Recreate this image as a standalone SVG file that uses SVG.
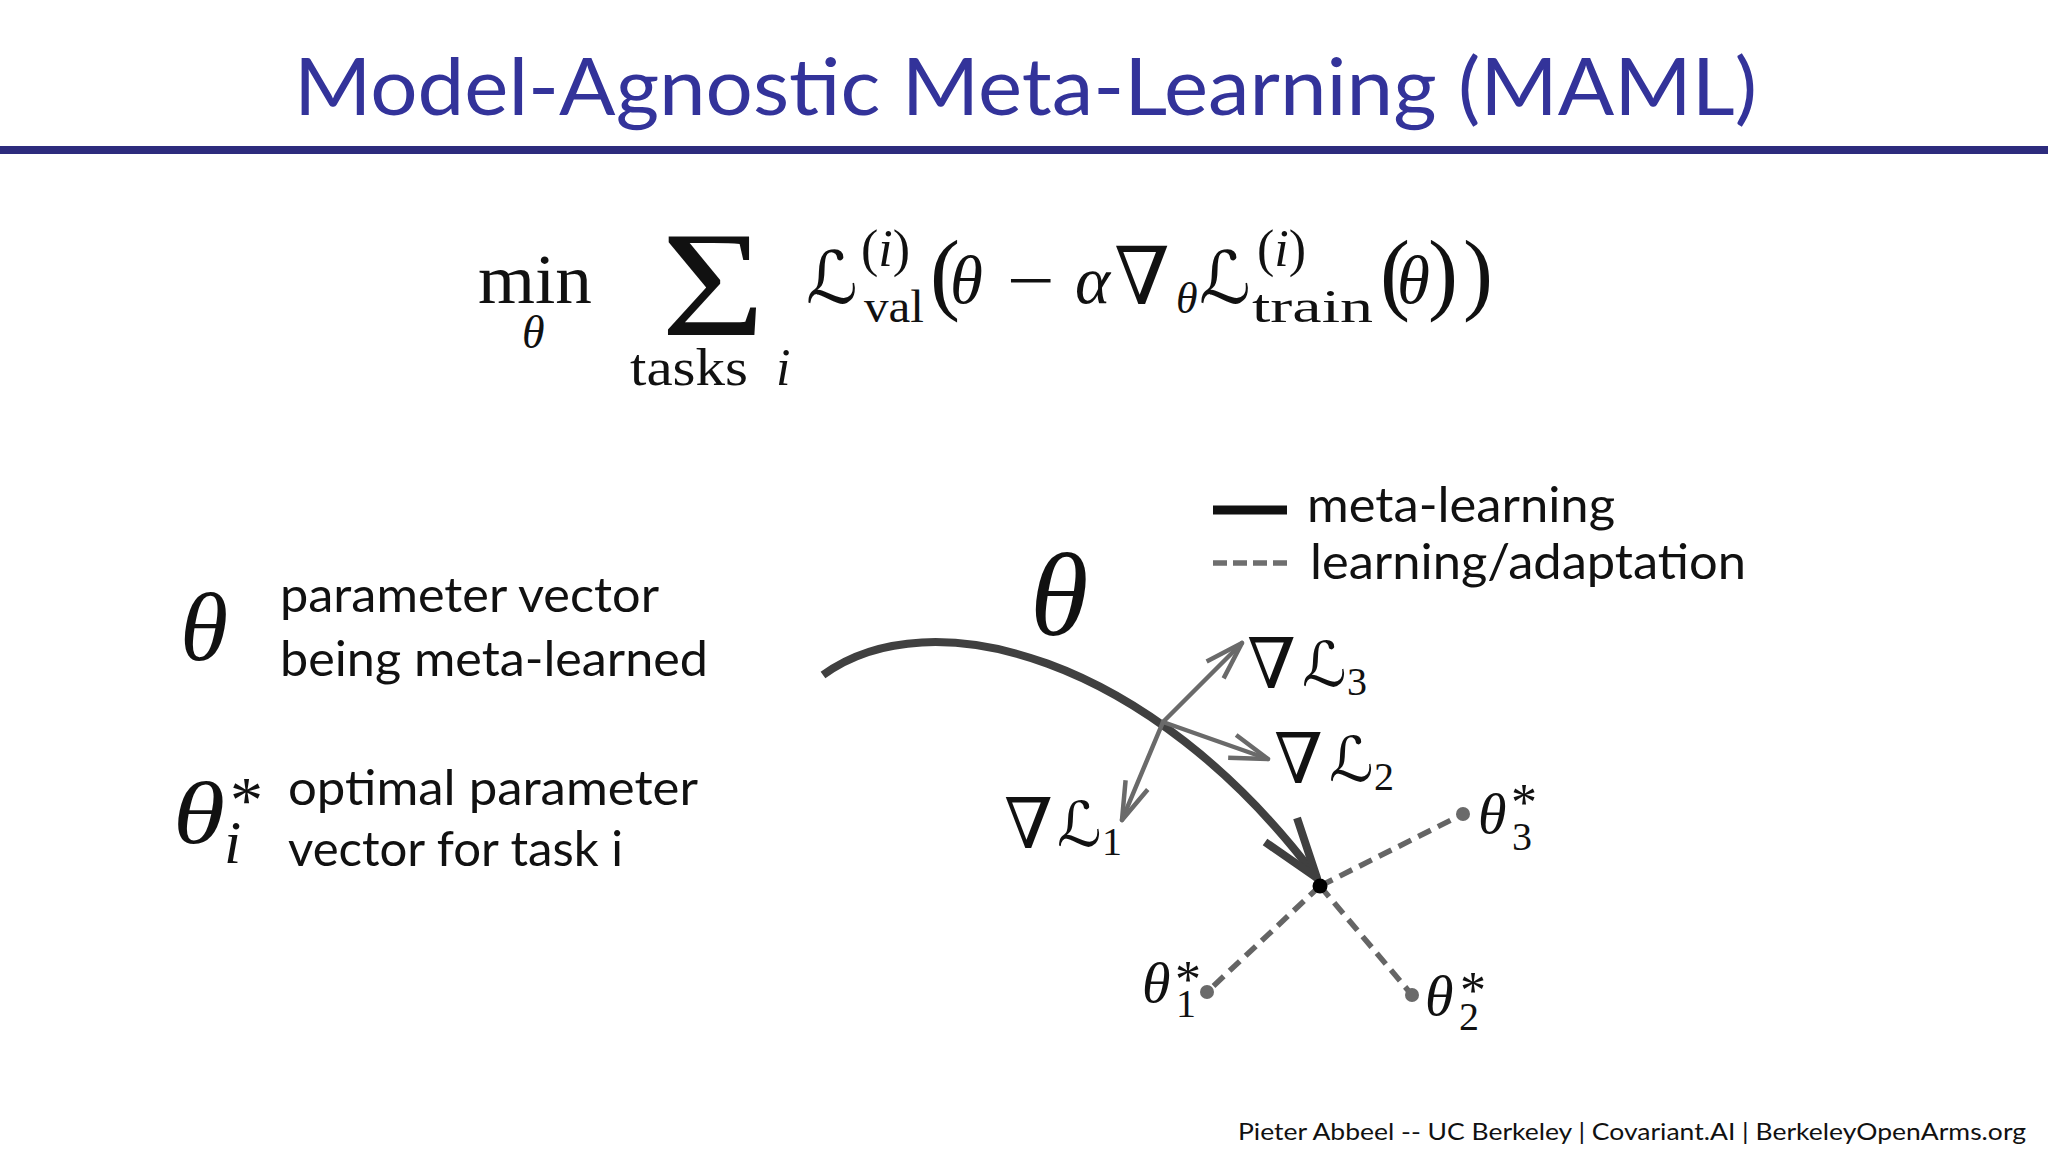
<svg xmlns="http://www.w3.org/2000/svg" width="2048" height="1152" viewBox="0 0 2048 1152">
<style>
.sans{font-family:"Lato","Open Sans","Liberation Sans",sans-serif;fill:#111}
.mr{font-family:"Liberation Serif","DejaVu Serif",serif;fill:#111}
.mi{font-family:"Liberation Serif","DejaVu Serif",serif;font-style:italic;fill:#111}
.ms{font-family:"DejaVu Serif","DejaVu Sans",serif;fill:#111}
.grad{fill:none;stroke:#6a6a6a;stroke-width:4.5;stroke-linecap:round}
.dash{fill:none;stroke:#656565;stroke-width:5.5;stroke-dasharray:14 8}
.dot{fill:#6a6a6a}
</style>
<defs>
<marker id="headBig" markerUnits="userSpaceOnUse" orient="auto" refX="0" refY="0" markerWidth="200" markerHeight="200" overflow="visible">
<path d="M -60 -20 L 0 0 L -60 20" fill="none" stroke="#404040" stroke-width="8" stroke-linejoin="round" stroke-linecap="butt"/>
</marker>
<marker id="headSmall" markerUnits="userSpaceOnUse" orient="auto" refX="0" refY="0" markerWidth="100" markerHeight="100" overflow="visible">
<path d="M -38 -12 L 0 0 L -38 12" fill="none" stroke="#6a6a6a" stroke-width="4.5" stroke-linejoin="round" stroke-linecap="butt"/>
</marker>
</defs>
<rect x="0" y="0" width="2048" height="1152" fill="#ffffff"/>

<g id="title">
<text x="294" y="115" font-family="Lato, 'Open Sans', sans-serif" font-size="80" fill="#33339a" textLength="1463" lengthAdjust="spacingAndGlyphs">Model-Agnostic Meta-Learning (MAML)</text>
<rect x="0" y="146" width="2048" height="8" fill="#2d2b7d"/>
</g>

<g id="formula">
<text class="mr" x="478" y="303" font-size="70" textLength="114" lengthAdjust="spacingAndGlyphs">min</text>
<text class="mi" x="522" y="348" font-size="46">θ</text>
<text class="mr" x="661" y="335" font-size="150" textLength="104" lengthAdjust="spacingAndGlyphs">Σ</text>
<text class="mr" x="630" y="385" font-size="52" textLength="118" lengthAdjust="spacingAndGlyphs">tasks</text>
<text class="mi" x="776" y="385" font-size="52">i</text>
<text class="ms" x="806" y="303" font-size="72">ℒ</text>
<text class="mr" x="861" y="266" font-size="52">(<tspan class="mi">i</tspan>)</text>
<text class="mr" x="864" y="322" font-size="46" textLength="60" lengthAdjust="spacingAndGlyphs">val</text>
<text class="mr" x="930" y="303" font-size="90">(</text>
<text class="mi" x="950" y="303" font-size="67">θ</text>
<text class="mr" x="1007" y="303" font-size="67" textLength="48" lengthAdjust="spacingAndGlyphs">−</text>
<text class="mi" x="1075" y="303" font-size="67">α</text>
<text class="ms" x="1114" y="304" font-size="80">∇</text>
<text class="mi" x="1176" y="313" font-size="44">θ</text>
<text class="ms" x="1199" y="303" font-size="72">ℒ</text>
<text class="mr" x="1257" y="266" font-size="52">(<tspan class="mi">i</tspan>)</text>
<text class="mr" x="1252" y="322" font-size="46" textLength="121" lengthAdjust="spacingAndGlyphs">train</text>
<text class="mr" x="1380" y="303" font-size="90">(</text>
<text class="mi" x="1397" y="303" font-size="67">θ</text>
<text class="mr" x="1428" y="303" font-size="90">)</text>
<text class="mr" x="1463" y="303" font-size="90">)</text>
</g>

<g id="legend-theta">
<text class="mi" x="180" y="660" font-size="98" fill="#222">θ</text>
<text class="sans" x="280" y="612" font-size="48" textLength="379" lengthAdjust="spacingAndGlyphs">parameter vector</text>
<text class="sans" x="280" y="676" font-size="48" textLength="428" lengthAdjust="spacingAndGlyphs">being meta-learned</text>
</g>

<g id="legend-theta-star">
<text class="mi" x="173" y="843" font-size="88" fill="#222" textLength="52" lengthAdjust="spacingAndGlyphs">θ</text>
<text class="mr" x="230" y="822" font-size="66" fill="#222">*</text>
<text class="mi" x="224" y="863" font-size="62" fill="#222">i</text>
<text class="sans" x="288" y="805" font-size="48" textLength="410" lengthAdjust="spacingAndGlyphs">optimal parameter</text>
<text class="sans" x="288" y="866" font-size="48" textLength="335" lengthAdjust="spacingAndGlyphs">vector for task i</text>
</g>

<g id="legend-lines">
<line x1="1213" y1="510" x2="1287" y2="510" stroke="#111" stroke-width="9"/>
<text class="sans" x="1307" y="522" font-size="48" textLength="308" lengthAdjust="spacingAndGlyphs">meta-learning</text>
<line x1="1213" y1="563" x2="1287" y2="563" stroke="#6e6e6e" stroke-width="5.5" stroke-dasharray="14 6"/>
<text class="sans" x="1310" y="579" font-size="48" textLength="436" lengthAdjust="spacingAndGlyphs">learning/adaptation</text>
</g>

<g id="connectors">
<path d="M823,675 C930,597 1150,655 1317,878" fill="none" stroke="#404040" stroke-width="8" marker-end="url(#headBig)"/>
<path class="grad" d="M1163,722 L1242,643" marker-end="url(#headSmall)"/>
<path class="grad" d="M1163,722 L1268,759" marker-end="url(#headSmall)"/>
<path class="grad" d="M1163,722 L1122,820" marker-end="url(#headSmall)"/>
<path class="dash" d="M1320,886 L1463,814"/>
<path class="dash" d="M1320,886 L1207,992"/>
<path class="dash" d="M1320,886 L1412,995"/>
</g>

<g id="theta-label">
<text class="mi" x="1030" y="635" font-size="119">θ</text>
</g>

<g id="grad-L3">
<text class="ms" x="1247" y="688" font-size="70">∇</text>
<text class="ms" x="1302" y="686" font-size="62">ℒ</text>
<text class="mr" x="1347" y="695" font-size="40">3</text>
</g>
<g id="grad-L2">
<text class="ms" x="1274" y="783" font-size="70">∇</text>
<text class="ms" x="1329" y="781" font-size="62">ℒ</text>
<text class="mr" x="1374" y="790" font-size="40">2</text>
</g>
<g id="grad-L1">
<text class="ms" x="1004" y="848" font-size="70">∇</text>
<text class="ms" x="1057" y="846" font-size="62">ℒ</text>
<text class="mr" x="1102" y="855" font-size="40">1</text>
</g>

<g id="theta-current">
<circle cx="1320" cy="886" r="7.5" fill="#000"/>
</g>
<g id="theta-star-3">
<circle class="dot" cx="1463" cy="814" r="7"/>
<text class="mi" x="1478" y="833" font-size="58">θ</text>
<text class="mr" x="1511" y="820" font-size="52">*</text>
<text class="mr" x="1512" y="850" font-size="40">3</text>
</g>
<g id="theta-star-1">
<circle class="dot" cx="1207" cy="992" r="7"/>
<text class="mi" x="1142" y="1002" font-size="58">θ</text>
<text class="mr" x="1175" y="997" font-size="52">*</text>
<text class="mr" x="1176" y="1017" font-size="40">1</text>
</g>
<g id="theta-star-2">
<circle class="dot" cx="1412" cy="995" r="7"/>
<text class="mi" x="1425" y="1015" font-size="58">θ</text>
<text class="mr" x="1460" y="1008" font-size="52">*</text>
<text class="mr" x="1459" y="1030" font-size="40">2</text>
</g>

<g id="footer">
<text class="sans" x="1238" y="1140" font-size="24" textLength="788" lengthAdjust="spacingAndGlyphs">Pieter Abbeel -- UC Berkeley | Covariant.AI | BerkeleyOpenArms.org</text>
</g>
</svg>
